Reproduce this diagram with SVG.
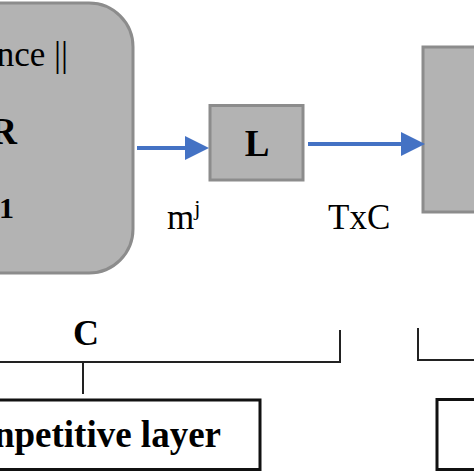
<svg xmlns="http://www.w3.org/2000/svg" width="474" height="474" viewBox="0 0 474 474">
<style>
.gbox{fill:#b3b3b3;stroke:#8c8c8c;stroke-width:3}
.wbox{fill:#ffffff;stroke:#111111;stroke-width:3}
.t{font-family:"Liberation Serif","Times New Roman",serif;fill:#000}
.b{font-weight:bold}
.arrow{stroke:#4472c4;stroke-width:4;fill:none}
.br{stroke:#222222;stroke-width:2;fill:none}
</style>
<defs>
<marker id="ah" markerWidth="6" markerHeight="6" refX="5" refY="3" orient="auto" markerUnits="strokeWidth" viewBox="0 0 6 6">
<path d="M0,0 L6,3 L0,6 z" fill="#4472c4"/>
</marker>
</defs>
<rect width="474" height="474" fill="#ffffff"/>
<g id="node-main">
<rect class="gbox" x="-80" y="3" width="213" height="270" rx="44" ry="44"/>
<text class="t" x="68" y="66" font-size="35" text-anchor="end">nce ||</text>
<text class="t b" x="17" y="144" font-size="37" text-anchor="end">R</text>
<text class="t b" x="14" y="218" font-size="30" text-anchor="end">.1</text>
</g>
<g id="node-L">
<rect class="gbox" x="210" y="105.5" width="93" height="74.5"/>
<text class="t b" x="257" y="156" font-size="37" text-anchor="middle">L</text>
</g>
<g id="node-right">
<rect class="gbox" x="423" y="47" width="80" height="165"/>
</g>
<g id="node-competitive">
<rect class="wbox" x="-20" y="400" width="280" height="69.5"/>
<text class="t b" x="221" y="447" font-size="37" text-anchor="end">npetitive layer</text>
</g>
<g id="node-right-bottom">
<rect class="wbox" x="437" y="399.5" width="80" height="70"/>
</g>
<g id="connectors">
<line class="arrow" x1="137" y1="148" x2="205" y2="148" marker-end="url(#ah)"/>
<line class="arrow" x1="308" y1="144" x2="421" y2="144" marker-end="url(#ah)"/>
<path class="br" d="M0,362 H340 V330"/>
<path class="br" d="M83,362 V394"/>
<path class="br" d="M418,328 V360 H474"/>
</g>
<g id="labels">
<text class="t" x="167" y="229" font-size="35">m<tspan font-size="22" dy="-14">j</tspan></text>
<text class="t" x="328" y="229" font-size="35">TxC</text>
<text class="t b" x="86" y="345" font-size="36" text-anchor="middle">C</text>
</g>
</svg>
